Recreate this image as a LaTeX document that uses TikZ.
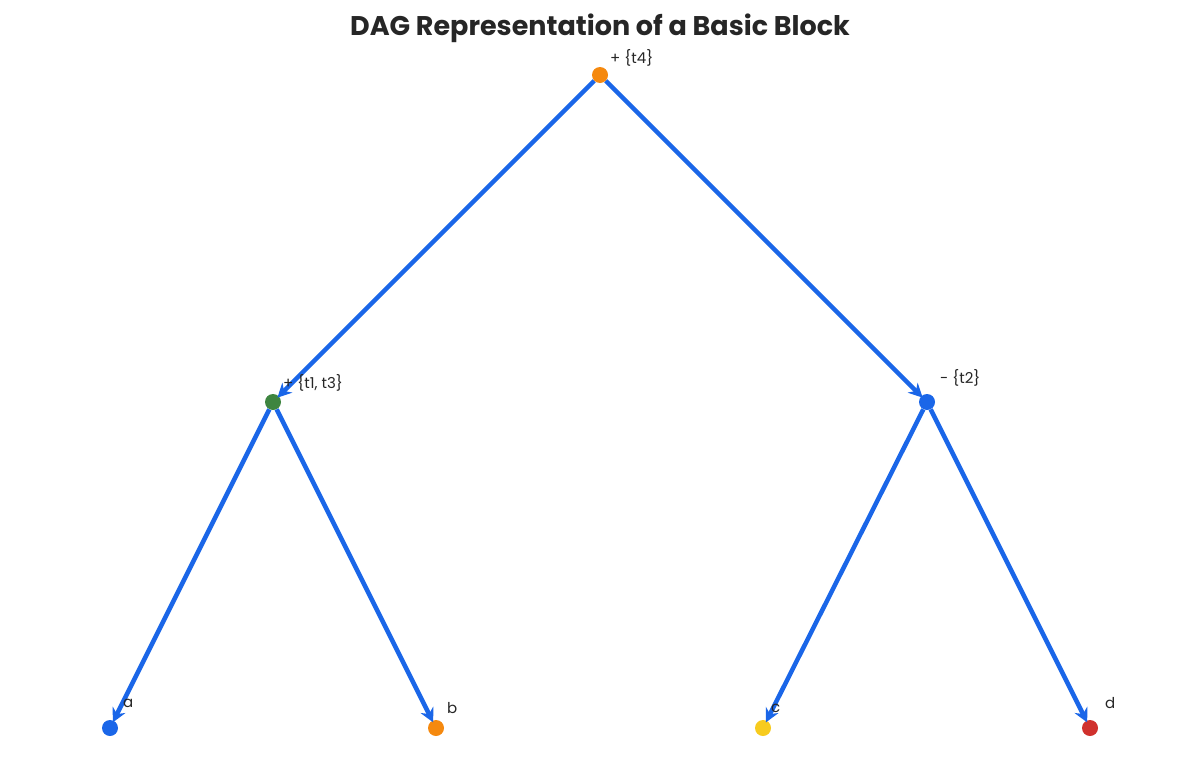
\documentclass[tikz,border=0pt]{standalone}
\usepackage{fontspec}
\setmainfont{Poppins}
\usetikzlibrary{arrows.meta}
\definecolor{eblue}{HTML}{1A66E8}
\definecolor{corange}{HTML}{F5890F}
\definecolor{cgreen}{HTML}{3E8540}
\definecolor{cyellow}{HTML}{F7CB1E}
\definecolor{cred}{HTML}{D0312D}
\begin{document}
\begin{tikzpicture}[x=1pt,y=-1pt,
  dot/.style={circle,inner sep=0pt,minimum size=16pt,fill=#1},
  edge/.style={eblue,line width=4.5pt,-{Stealth[length=14pt,width=14pt]},shorten >=-2pt},
  lbl/.style={font=\fontsize{15}{18}\selectfont,text=black!85,anchor=west,inner sep=0pt}]
\useasboundingbox (0,0) rectangle (1200,763);
\node[font=\fontsize{27}{32}\selectfont\bfseries,text=black!85] (title) at (600,28) {DAG Representation of a Basic Block};
\node[dot=corange] (r) at (600,75) {};
\node[dot=cgreen] (l) at (273,402) {};
\node[dot=eblue] (rr) at (927,402) {};
\node[dot=eblue] (a) at (110,728) {};
\node[dot=corange] (b) at (436,728) {};
\node[dot=cyellow] (c) at (763,728) {};
\node[dot=cred] (d) at (1090,728) {};
\draw[edge] (r) -- (l);
\draw[edge] (r) -- (rr);
\draw[edge] (l) -- (a);
\draw[edge] (l) -- (b);
\draw[edge] (rr) -- (c);
\draw[edge] (rr) -- (d);
\node[lbl] (tr) at (610,58) {+ \{t4\}};
\node[lbl] (tl) at (283,383) {+ \{t1, t3\}};
\node[lbl] (trr) at (940,378) {- \{t2\}};
\node[lbl] (ta) at (123,703) {a};
\node[lbl] (tb) at (447,708) {b};
\node[lbl] (tc) at (771,708) {c};
\node[lbl] (td) at (1105,703) {d};
\end{tikzpicture}
\end{document}
